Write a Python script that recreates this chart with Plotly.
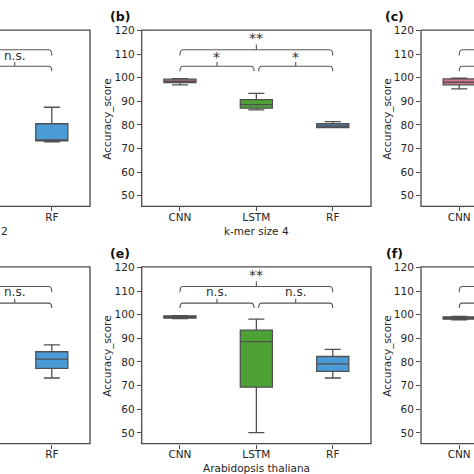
import plotly.graph_objects as go

W = H = 474
categories = ["CNN", "LSTM", "RF"]
colors = {"CNN": "#d4758b", "LSTM": "#4ea235", "RF": "#4b9bd6"}

# box statistics per panel: (category, lowerfence, q1, median, q3, upperfence)
panel_a = [("RF", 72.8, 73.2, 73.5, 80.5, 87.5)]
panel_b = [("CNN", 97.0, 98.0, 98.6, 99.4, 99.6),
           ("LSTM", 86.4, 87.1, 88.6, 90.7, 93.4),
           ("RF", 78.9, 78.9, 79.6, 80.5, 81.4)]
panel_c = [("CNN", 95.3, 97.0, 98.1, 99.5, 99.8)]
panel_d = [("RF", 73.2, 77.3, 81.2, 84.3, 87.2)]
panel_e = [("CNN", 98.3, 98.6, 99.0, 99.5, 99.6),
           ("LSTM", 50.1, 69.3, 88.6, 93.5, 98.1),
           ("RF", 73.2, 76.0, 79.2, 82.3, 85.3)]
panel_f = [("CNN", 97.8, 98.1, 98.8, 99.1, 99.3)]

# significance labels: (top CNN-RF, CNN-LSTM, LSTM-RF)
sig_a = ["", "", "n.s."]
sig_b = ["**", "*", "*"]
sig_c = ["", "", ""]
sig_d = ["", "", "n.s."]
sig_e = ["**", "n.s.", "n.s."]
sig_f = ["", "", ""]

xtitles = {"a": "k-mer size 2", "b": "k-mer size 4", "e": "Arabidopsis thaliana"}
yticks = [50, 60, 70, 80, 90, 100, 110, 120]
ytitle = "Accuracy_score"

K = 76.4  # px per category unit
top_row = (24.5, 203.0)
bot_row = (264.3, 443.3)
cols = {
    "left": (0.0, 90.0, 2.5 - 90.0 / K, 2.5),
    "mid": (141.7, 371.0, -0.5, 2.5),
    "right": (421.0, 474.0, -0.5, -0.5 + 53.0 / K),
}
panels = [
    ("a", panel_a, sig_a, "left", top_row),
    ("b", panel_b, sig_b, "mid", top_row),
    ("c", panel_c, sig_c, "right", top_row),
    ("d", panel_d, sig_d, "left", bot_row),
    ("e", panel_e, sig_e, "mid", bot_row),
    ("f", panel_f, sig_f, "right", bot_row),
]

FONT = "DejaVu Sans"
TXT = "#262626"
FRAME = "#4a4a4a"
fig = go.Figure()
shapes, annos = [], []
yr = [45.4, 120.2]


def px(xp):
    return xp / W


def py(yp):
    return 1 - yp / H


def note(**kw):
    kw.setdefault("xanchor", "center")
    kw.setdefault("yanchor", "middle")
    kw.setdefault("showarrow", False)
    annos.append(kw)


for i, (name, data, sig, col, row) in enumerate(panels):
    n = i + 1
    xa = "xaxis" if n == 1 else f"xaxis{n}"
    ya = "yaxis" if n == 1 else f"yaxis{n}"
    xr = "x" if n == 1 else f"x{n}"
    yrf = "y" if n == 1 else f"y{n}"
    x0p, x1p, r0, r1 = cols[col]
    y0p, y1p = row
    show_y = col != "left"
    fig.update_layout({
        xa: dict(domain=[px(x0p), px(x1p)], range=[r0, r1], anchor=yrf,
                 tickvals=[0, 1, 2], ticktext=categories, ticks="outside",
                 ticklen=4, tickcolor=FRAME, showgrid=False, zeroline=False,
                 showline=False, ticklabelstandoff=-3,
                 tickfont=dict(family=FONT, size=10.5, color=TXT)),
        ya: dict(domain=[py(y1p), py(y0p)], range=yr, anchor=xr,
                 tickvals=yticks, ticks="outside" if show_y else "",
                 ticklen=4, tickcolor=FRAME, showticklabels=show_y,
                 showgrid=False, zeroline=False, showline=False,
                 tickfont=dict(family=FONT, size=10.5, color=TXT)),
    })
    for cat, lf, q1, med, q3, uf in data:
        fig.add_trace(go.Box(
            x=[categories.index(cat)], lowerfence=[lf], q1=[q1], median=[med],
            q3=[q3], upperfence=[uf], width=0.42, whiskerwidth=0.5,
            fillcolor=colors[cat], line=dict(color="#505050", width=1.3),
            boxpoints=False, xaxis=xr, yaxis=yrf, showlegend=False,
            hoverinfo="skip"))
    # frame
    fx0 = px(x0p) if col != "left" else -0.3
    fx1 = px(x1p) if col != "right" else 1.3
    shapes.append(dict(type="rect", xref="paper", yref="paper", x0=fx0, x1=fx1,
                       y0=py(y1p), y1=py(y0p), line=dict(color=FRAME, width=1.3),
                       layer="above"))

    # brackets
    def bracket(a, b, yl, yend, ytk):
        r = 0.04
        xc = (a + b) / 2
        path = (f"M {a},{yend} Q {a},{yl} {a + r},{yl} L {b - r},{yl} "
                f"Q {b},{yl} {b},{yend} M {xc},{yl} L {xc},{ytk}")
        shapes.append(dict(type="path", path=path, xref=xr, yref=yrf,
                           line=dict(color="#555555", width=1.1)))
    bracket(0, 2, 111.9, 109.5, 114.1)
    bracket(0, 0.97, 104.9, 102.8, 106.7)
    bracket(1.03, 2, 104.9, 102.8, 106.7)
    lab_specs = [(1.0, 116.9, sig[0]), (0.485, 108.9, sig[1]), (1.515, 108.9, sig[2])]
    for xx, yy, t in lab_specs:
        if t and r0 <= xx <= r1:
            is_ns = "n" in t
            note(x=xx, y=yy + (0.5 if is_ns else 0), xref=xr, yref=yrf, text=t,
                 font=dict(family=FONT, size=12 if is_ns else 14,
                           color="#303030"))
    # panel label
    if col != "left":
        lx = 120 if col == "mid" else 394
        note(x=px(lx), y=py(y0p - 13.5), xref="paper", yref="paper",
             text=f"<b>({name})</b>",
             font=dict(family=FONT, size=12.5, color="#111111"))
        tx = 108 if col == "mid" else 388
        note(x=px(tx), y=py((y0p + y1p) / 2 + 1.5), xref="paper",
             yref="paper", text=ytitle, textangle=-90,
             font=dict(family=FONT, size=10.5, color=TXT))
    if name in xtitles:
        cxp = (x0p + 1.5 * K) if col == "mid" else (x1p - 1.5 * K)
        note(x=px(cxp), y=py(y1p + 24.5), xref="paper", yref="paper",
             text=xtitles[name], font=dict(family=FONT, size=10.5, color=TXT))

fig.update_layout(width=W, height=H, margin=dict(l=0, r=0, t=0, b=0),
                  paper_bgcolor="white", plot_bgcolor="white",
                  shapes=shapes, annotations=annos, showlegend=False)
fig.write_html("out.html")
